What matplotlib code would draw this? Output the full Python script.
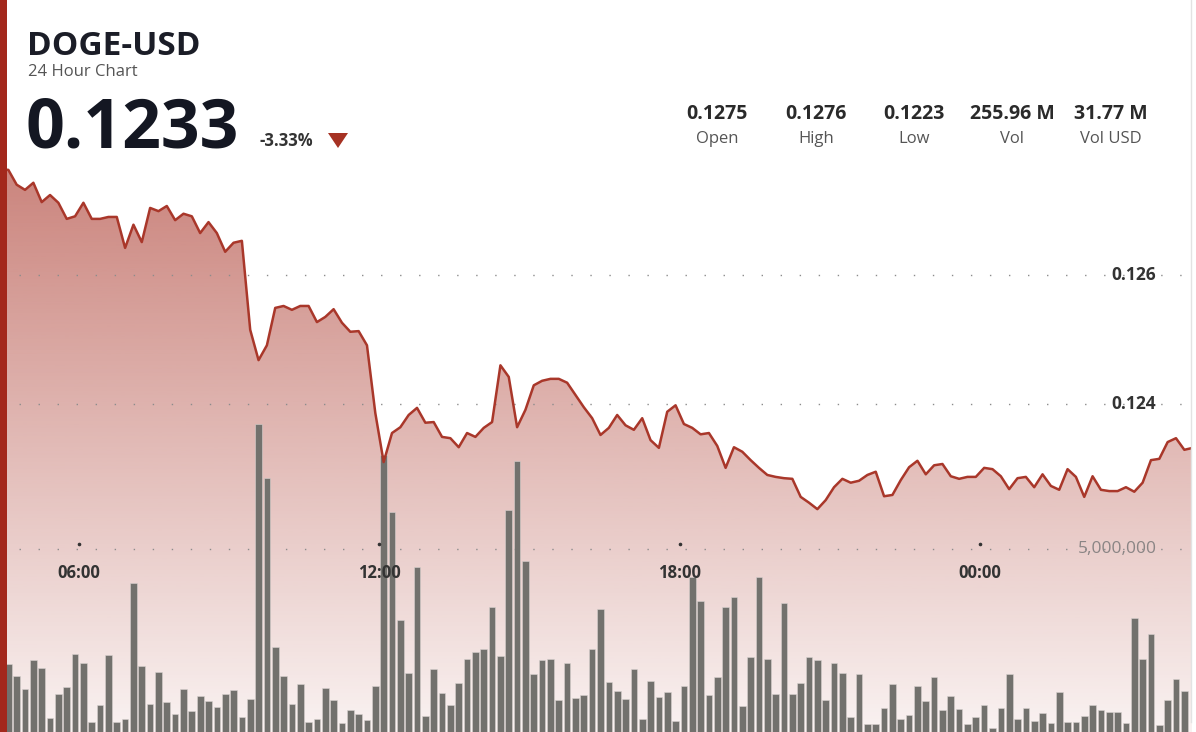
import numpy as np
import matplotlib.pyplot as plt
from matplotlib.colors import to_rgb
from matplotlib.patches import Polygon, Rectangle
from matplotlib.lines import Line2D
from matplotlib import transforms

plt.rcParams['font.family'] = ['Open Sans', 'DejaVu Sans']

# DOGE-USD, 10 minute steps (minutes after midnight of the first day)
price = [
    0.12764, 0.12763, 0.12740, 0.12732, 0.12743, 0.12713, 0.12724, 0.12712, 0.12687, 0.12691,
    0.12712, 0.12687, 0.12687, 0.12690, 0.12690, 0.12642, 0.12678, 0.12651, 0.12704, 0.12699,
    0.12707, 0.12685, 0.12695, 0.12691, 0.12665, 0.12682, 0.12665, 0.12636, 0.12650, 0.12653,
    0.12515, 0.12468, 0.12491, 0.12549, 0.12552, 0.12546, 0.12552, 0.12552, 0.12527, 0.12535,
    0.12547, 0.12526, 0.12512, 0.12513, 0.12491, 0.12386, 0.12310, 0.12355, 0.12364, 0.12383,
    0.12394, 0.12371, 0.12372, 0.12349, 0.12347, 0.12333, 0.12355, 0.12349, 0.12363, 0.12372,
    0.12460, 0.12442, 0.12364, 0.12391, 0.12429, 0.12436, 0.12439, 0.12439, 0.12433, 0.12414,
    0.12395, 0.12378, 0.12352, 0.12363, 0.12383, 0.12367, 0.12360, 0.12378, 0.12344, 0.12332,
    0.12388, 0.12398, 0.12369, 0.12363, 0.12353, 0.12355, 0.12335, 0.12301, 0.12333, 0.12326,
    0.12313, 0.12301, 0.12290, 0.12287, 0.12285, 0.12284, 0.12256, 0.12247, 0.12237, 0.12251,
    0.12271, 0.12284, 0.12278, 0.12281, 0.12290, 0.12295, 0.12257, 0.12259, 0.12282, 0.12302,
    0.12312, 0.12291, 0.12305, 0.12307, 0.12288, 0.12284, 0.12287, 0.12287, 0.12301, 0.12299,
    0.12288, 0.12268, 0.12285, 0.12287, 0.12271, 0.12291, 0.12273, 0.12267, 0.12299, 0.12287,
    0.12256, 0.12288, 0.12267, 0.12265, 0.12265, 0.12271, 0.12264, 0.12278, 0.12313, 0.12315,
    0.12341, 0.12347, 0.12329, 0.12332,
]

# volume per bar, millions
volume_m = [
    1.99, 1.68, 1.34, 2.09, 1.88, 0.58, 1.20, 1.39, 2.25, 2.02,
    0.47, 0.92, 2.23, 0.47, 0.55, 4.11, 1.94, 0.94, 1.78, 0.99,
    0.68, 1.34, 0.76, 1.15, 1.02, 0.86, 1.20, 1.31, 0.60, 1.07,
    8.27, 6.86, 2.43, 1.68, 0.94, 1.47, 0.47, 0.55, 1.36, 1.05,
    0.45, 0.79, 0.68, 0.52, 1.41, 7.46, 5.97, 3.14, 1.75, 4.53,
    0.63, 1.86, 1.23, 0.92, 1.49, 2.12, 2.30, 2.38, 3.48, 2.20,
    6.02, 7.30, 4.69, 1.73, 2.09, 2.12, 1.05, 2.02, 1.10, 1.18,
    2.38, 3.43, 1.52, 1.28, 1.07, 1.86, 0.55, 1.54, 1.13, 1.26,
    0.50, 1.41, 4.27, 3.64, 1.18, 1.65, 3.48, 3.74, 0.89, 2.17,
    4.27, 2.12, 1.20, 3.59, 1.20, 1.49, 2.17, 2.09, 1.05, 2.02,
    1.75, 0.60, 1.73, 0.42, 0.42, 0.84, 1.47, 0.55, 0.65, 1.41,
    1.02, 1.65, 0.79, 1.15, 0.81, 0.42, 0.60, 0.92, 0.31, 0.84,
    1.73, 0.55, 0.84, 0.50, 0.71, 0.45, 1.26, 0.47, 0.47, 0.63,
    0.92, 0.79, 0.73, 0.73, 0.45, 3.19, 2.12, 2.78, 0.39, 1.05,
    1.60, 1.28,
]

start_min = 265
time_min = start_min + 10 * np.arange(len(price))
bar_time = time_min[1:len(volume_m) + 1]
volume = np.array(volume_m) * 1e6

tick_min = [360, 720, 1080, 1440]
tick_lbl = ['06:00', '12:00', '18:00', '00:00']
price_grid = [0.126, 0.124]
vol_grid = 5_000_000

stats_val = ['0.1275', '0.1276', '0.1223', '255.96 M', '31.77 M']
stats_lbl = ['Open', 'High', 'Low', 'Vol', 'Vol USD']
stats_x = [717, 816, 914, 1012, 1111]

W, H = 1196, 732
fig = plt.figure(figsize=(W / 100, H / 100), dpi=100)
fig.patch.set_facecolor('white')


def fx(x):
    return x / W


def fy(y):
    return 1 - y / H


rect = [0, 0, fx(1192), (H - 150) / H]
xlim = (265, 1694.2)
plim = (0.118915, 0.127938)
vlim = (0.2094e6, 15.445e6)

ax_f = fig.add_axes(rect)
ax_v = fig.add_axes(rect)
ax_p = fig.add_axes(rect)
for a in (ax_f, ax_v, ax_p):
    a.axis('off')

# gradient area under the price line
base = np.array(to_rgb('#b0453a'))
grad = np.ones((256, 1, 4))
grad[:, 0, :3] = base
grad[:, 0, 3] = np.linspace(0.68, 0.07, 256)
im = ax_f.imshow(grad, extent=[xlim[0], xlim[1], plim[0], plim[1]],
                 aspect='auto', origin='upper', zorder=1)
verts = np.column_stack([np.r_[time_min[0], time_min, time_min[-1]],
                         np.r_[plim[0], price, plim[0]]])
clip = Polygon(verts, closed=True, facecolor='none', edgecolor='none',
               transform=ax_f.transData)
ax_f.add_patch(clip)
im.set_clip_path(clip)
for p in price_grid:
    ax_f.axhline(p, color='#8c8c8c', lw=1.0, ls=(0, (1, 12.7)), zorder=2)

# volume bars
ax_v.axhline(vol_grid, color='#8c8c8c', lw=1.0, ls=(0, (1, 12.7)), zorder=1)
ax_v.bar(bar_time, volume, width=8.0, color='#72716d', edgecolor='#d9d2d0',
         linewidth=0.4, zorder=2)

# price line
ax_p.plot(time_min, price, color='#a9372a', lw=1.8, solid_joinstyle='round', zorder=3)

ax_f.set_xlim(*xlim); ax_f.set_ylim(*plim)
ax_v.set_xlim(*xlim); ax_v.set_ylim(*vlim)
ax_p.set_xlim(*xlim); ax_p.set_ylim(*plim)

# axis labels
tr_p = transforms.blended_transform_factory(fig.transFigure, ax_p.transData)
for p in price_grid:
    ax_p.text(fx(1156), p, f'{p:.3f}', transform=tr_p, ha='right', va='center',
              fontsize=12.5, fontweight='bold', color='#333333', zorder=5)
tr_v = transforms.blended_transform_factory(fig.transFigure, ax_v.transData)
ax_v.text(fx(1157), vol_grid, f'{vol_grid:,}', transform=tr_v, ha='right', va='center',
          fontsize=12.5, color='#8a8585', zorder=5)

tr_t = transforms.blended_transform_factory(ax_p.transData, fig.transFigure)
for t, lbl in zip(tick_min, tick_lbl):
    ax_p.text(t, fy(573), lbl, transform=tr_t, ha='center', va='center',
              fontsize=12, fontweight='bold', color='#333333')
ax_p.plot(tick_min, [fy(544)] * len(tick_min), transform=tr_t, ls='none',
          marker='o', markersize=1.6, color='#333333')

# header
fig.text(fx(27), fy(55), 'DOGE-USD', fontsize=24, fontweight='bold',
         color='#1b1d27', va='baseline')
fig.text(fx(28), fy(76.5), '24 Hour Chart', fontsize=12, color='#555555', va='baseline')
fig.text(fx(26), fy(147), '0.1233', fontsize=49, fontweight='bold',
         color='#141722', va='baseline')
fig.text(fx(260), fy(146), '-3.33%', fontsize=12, fontweight='bold',
         color='#333333', va='baseline')
fig.add_artist(Polygon([[fx(328), fy(133)], [fx(348), fy(133)], [fx(338), fy(148)]],
                       closed=True, transform=fig.transFigure,
                       facecolor='#a63223', edgecolor='none'))

for x, v, l in zip(stats_x, stats_val, stats_lbl):
    fig.text(fx(x), fy(119), v, fontsize=14, fontweight='bold', color='#2a2a2a',
             ha='center', va='baseline')
    fig.text(fx(x), fy(143), l, fontsize=12, color='#555555', ha='center', va='baseline')

# card edges
fig.add_artist(Rectangle((0, 0), fx(6.5), 1, transform=fig.transFigure,
                         facecolor='#a3281c', edgecolor='none', zorder=10))
fig.add_artist(Line2D([fx(1191), fx(1191)], [fy(722), 1], transform=fig.transFigure,
                      color='#e3e3e3', lw=1))

fig.savefig('out.png', dpi=100, facecolor='white')
